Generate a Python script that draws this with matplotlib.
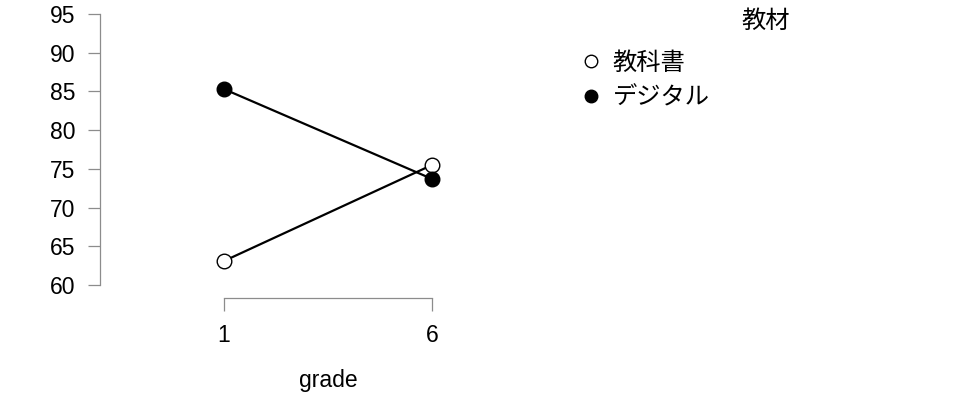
import numpy as np
import matplotlib.pyplot as plt
from matplotlib.transforms import blended_transform_factory
from matplotlib.lines import Line2D

plt.rcParams['font.family'] = ['Liberation Sans', 'Noto Sans CJK JP', 'DejaVu Sans']

# data
grades = [1, 6]
grade_labels = ['1', '6']
textbook = [63.1, 75.5]
digital = [85.3, 73.7]
series_names = ['教科書', 'デジタル']
legend_title = '教材'
yticks = [60, 65, 70, 75, 80, 85, 90, 95]

W, H = 960, 400
fig = plt.figure(figsize=(9.6, 4.0), dpi=100)
# axes: left spine at x=100px, y=95 at 14px, y=60 at 285px
ax = fig.add_axes([100 / W, 1 - 285 / H, 370 / W, (285 - 14) / H])

px_per_unit = (432 - 224) / (grades[1] - grades[0])
xmin = grades[0] - (224 - 100) / px_per_unit
xmax = xmin + 370 / px_per_unit
ax.set_xlim(xmin, xmax)
ax.set_ylim(60, 95)

ax.plot(grades, textbook, color='black', lw=1.6, marker='o', ms=10.5,
        mfc='white', mec='black', mew=1.0, clip_on=False, zorder=3)
ax.plot(grades, digital, color='black', lw=1.6, marker='o', ms=10.5,
        mfc='black', mec='black', mew=1.0, clip_on=False, zorder=3)

gray = '#8c8c8c'
for s in ['top', 'right']:
    ax.spines[s].set_visible(False)
ax.spines['left'].set_color(gray)
ax.spines['bottom'].set_color(gray)
ax.spines['left'].set_linewidth(0.9)
ax.spines['bottom'].set_linewidth(0.9)
ax.spines['left'].set_bounds(60, 95)
ax.spines['bottom'].set_bounds(grades[0], grades[-1])
ax.spines['bottom'].set_position(('outward', 9.4))

fs = 16.5
ax.set_yticks(yticks)
ax.set_xticks(grades)
ax.set_xticklabels(grade_labels)
ax.tick_params(axis='y', direction='out', length=8.6, width=0.9, color=gray,
               labelsize=fs, pad=9.0)
ax.tick_params(axis='x', direction='out', length=9.5, width=0.9, color=gray,
               labelsize=fs, pad=9.0)

ax.set_xlabel('grade', fontsize=fs)
ax.xaxis.set_label_coords(np.mean(grades), 1 - 380 / H,
                          transform=blended_transform_factory(ax.transData, fig.transFigure))
ax.xaxis.label.set_va('center')

# legend
handles = [
    Line2D([], [], ls='none', marker='o', ms=9, mfc='white', mec='black', mew=1.0),
    Line2D([], [], ls='none', marker='o', ms=9, mfc='black', mec='black', mew=1.0),
]
fig.text(766 / W, 1 - 22 / H, legend_title, fontsize=17.5, ha='center', va='center')
leg = fig.legend(handles, series_names, loc='upper left',
                 bbox_to_anchor=(581 / W, 1 - 52 / H), frameon=False,
                 fontsize=17.5, handlelength=0.8, handletextpad=0.5,
                 labelspacing=0.5, borderaxespad=0, borderpad=0)

fig.savefig('out.png', dpi=100)
